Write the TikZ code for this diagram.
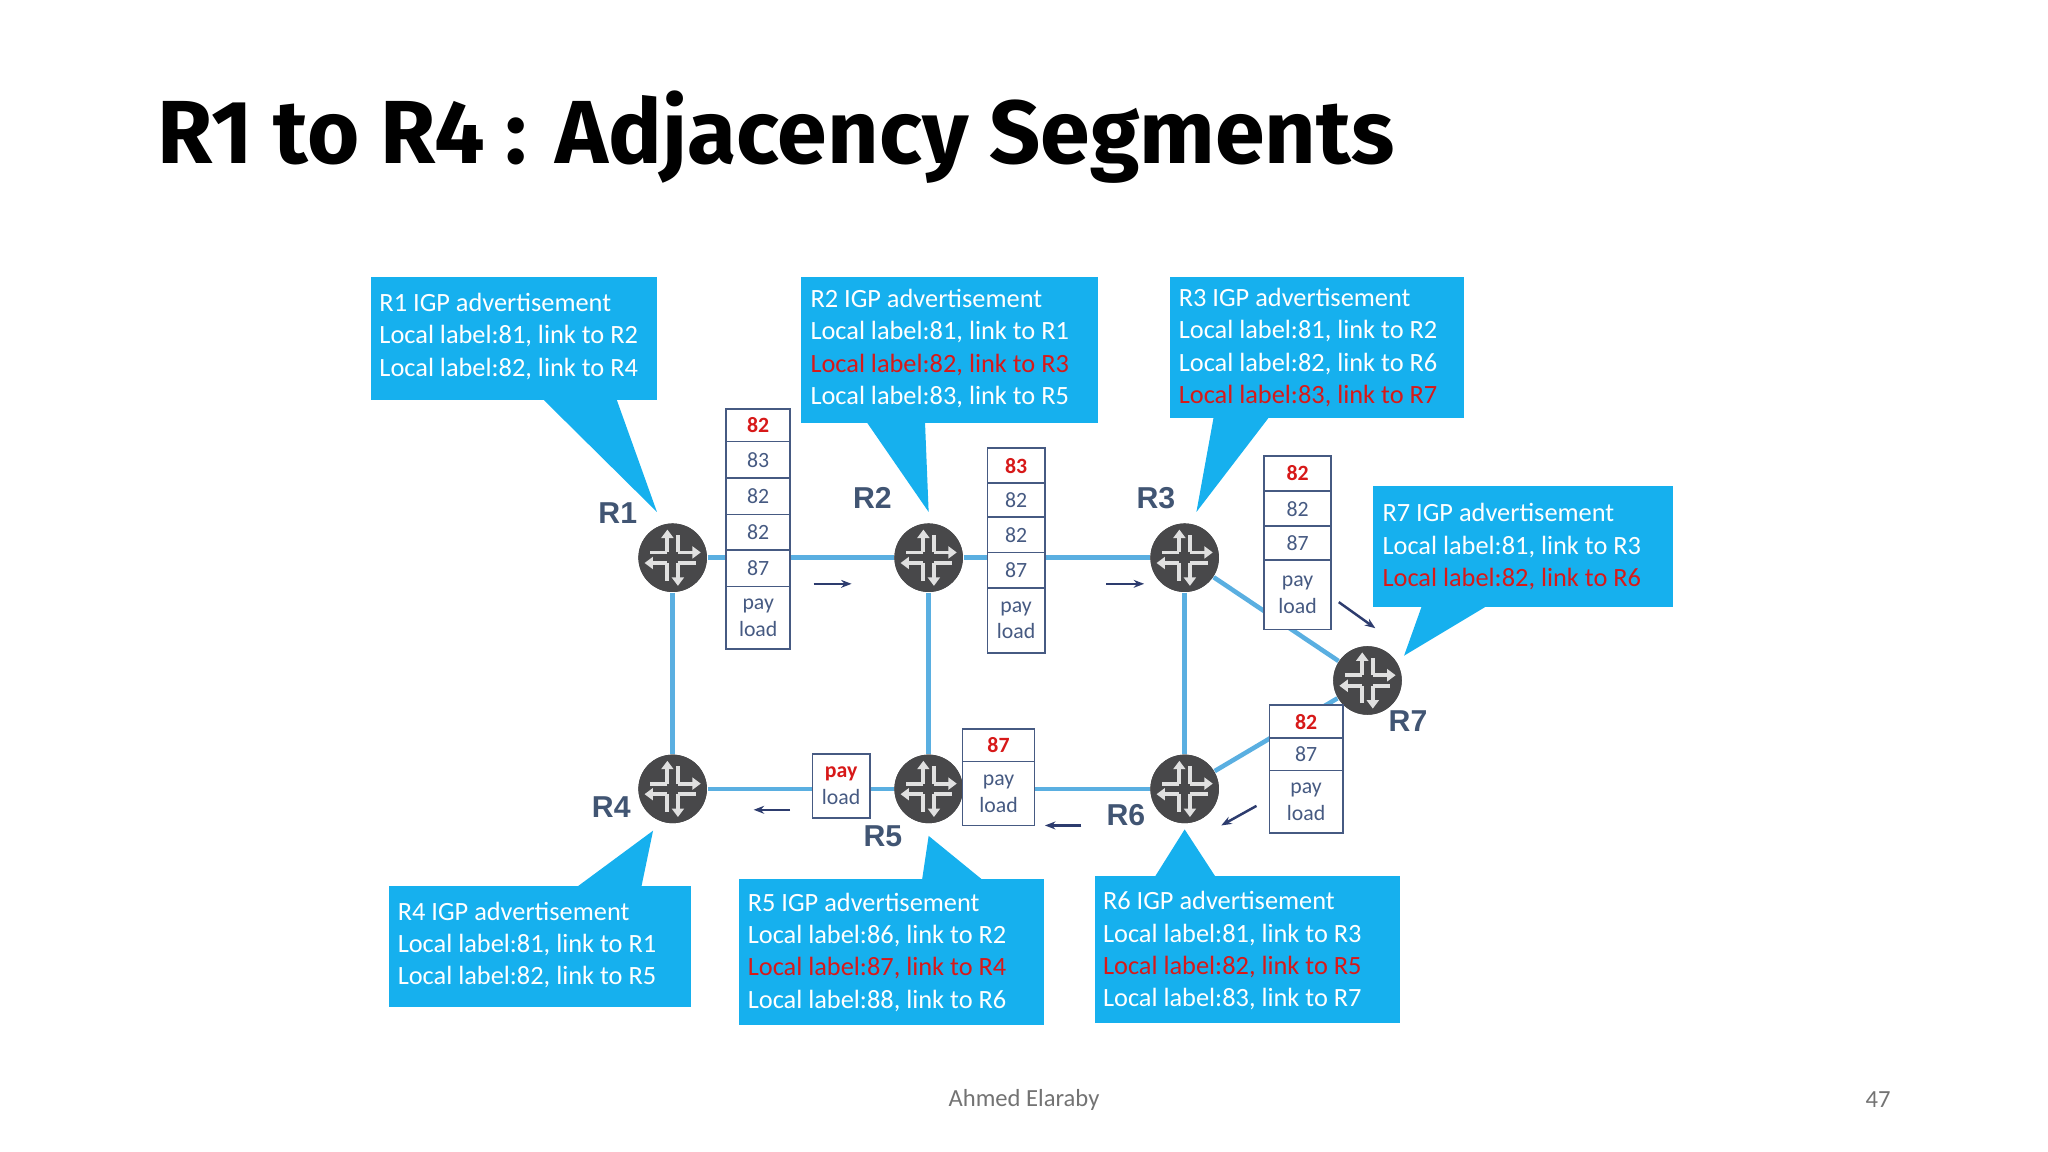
\documentclass[tikz,border=0pt]{standalone}
\usepackage{fontspec}
\setmainfont{Carlito}
\newfontfamily\titlefont{Fira Sans}
\newfontfamily\rfont{Liberation Sans}
\usetikzlibrary{arrows.meta,calc}
\definecolor{cblue}{RGB}{22,176,238}
\definecolor{lnk}{RGB}{90,175,225}
\definecolor{rgrey}{RGB}{72,72,74}
\definecolor{cellb}{RGB}{70,90,130}
\definecolor{navy}{RGB}{45,60,110}
\definecolor{lred}{RGB}{215,25,25}
\definecolor{rlab}{RGB}{65,85,115}
\tikzset{
    every node/.style={font=\fontsize{7.5}{9.2}\selectfont},
    router/.style={circle, fill=rgrey, minimum size=19.5pt, inner sep=0pt},
    rname/.style={font=\rfont\bfseries\fontsize{8.6}{9}\selectfont, text=rlab},
    ctxt/.style={text=white, anchor=north west, align=left, inner sep=0pt},
    link/.style={draw=lnk, line width=1.3pt},
    cell/.style={draw=cellb, fill=white, line width=0.5pt},
    ctext/.style={font=\fontsize{6.2}{7.6}\selectfont, text=cellb, align=center},
    flow/.style={draw=navy, line width=0.7pt, -{Stealth[length=3pt]}},
    cross/.style={draw=black!12, line width=1.1pt}
}
\newcommand{\cellbox}[5]{%
    \draw[cell] (#1,#3) rectangle (#2,#4);
    \node[ctext] at ({(#1+#2)/2},{(#3+#4)/2}) {#5};}
\newcommand{\redl}[1]{\textcolor{lred}{#1}}
\begin{document}
\begin{tikzpicture}[x=0.013061cm, y=-0.013061cm]
\useasboundingbox (0,0) rectangle (1568,882);

% Title
\node[anchor=base west, inner sep=0pt, font=\titlefont\bfseries\fontsize{25.5}{30}\selectfont] (title) at (120,125) {R1 to R4 : Adjacency Segments};

% Routers
\node[router] (R1) at (515,427) {};
\node[router] (R2) at (711,427) {};
\node[router] (R3) at (907,427) {};
\node[router] (R7) at (1047,521) {};
\node[router] (R4) at (515,604) {};
\node[router] (R5) at (711,604) {};
\node[router] (R6) at (907,604) {};
\foreach \a/\b in {R1/R2, R2/R3, R1/R4, R2/R5, R3/R6, R4/R5, R5/R6, R3/R7, R6/R7}
    \draw[link] (\a) -- (\b);
\foreach \n in {R1,R2,R3,R4,R5,R6,R7}{
    \node[router] at (\n) {};
    \foreach \r in {0,90,180,270}{
        \draw[cross, rotate around={\r:(\n)}, -{Triangle[length=2.4pt,width=3.4pt]}]
            ($(\n)+(1.5pt,-1.5pt)$) -- ++(0,-6.5pt);
        \draw[cross, rotate around={\r:(\n)}] ($(\n)+(1.5pt,-1.5pt)$) -- ++(5pt,0);
    }
}

% Router names
\node[rname] (n1) at (473,393) {R1};
\node[rname] (n2) at (668,381) {R2};
\node[rname] (n3) at (885,381) {R3};
\node[rname] (n7) at (1078,552) {R7};
\node[rname] (n4) at (468,618) {R4};
\node[rname] (n5) at (676,640) {R5};
\node[rname] (n6) at (862,624) {R6};

% Callouts
\fill[cblue] (284,212) rectangle (503,306); \fill[cblue] (410,300) -- (470,300) -- (503,392) -- cycle;
\node[ctxt] (b1) at (290,224)
    {R1 IGP advertisement\\Local label:81, link to R2\\Local label:82, link to R4};
\fill[cblue] (613,212) rectangle (841,324); \fill[cblue] (660,318) -- (708,318) -- (711,392) -- cycle;
\node[ctxt] (b2) at (620,221)
    {R2 IGP advertisement\\Local label:81, link to R1\\\redl{Local label:82, link to R3}\\Local label:83, link to R5};
\fill[cblue] (896,212) rectangle (1121,320); \fill[cblue] (930,315) -- (975,315) -- (916,392) -- cycle;
\node[ctxt] (b3) at (902,220)
    {R3 IGP advertisement\\Local label:81, link to R2\\Local label:82, link to R6\\\redl{Local label:83, link to R7}};
\fill[cblue] (1051,372) rectangle (1281,465); \fill[cblue] (1090,460) -- (1145,460) -- (1075,502) -- cycle;
\node[ctxt] (b7) at (1058,385)
    {R7 IGP advertisement\\Local label:81, link to R3\\\redl{Local label:82, link to R6}};
\fill[cblue] (298,678) rectangle (529,771); \fill[cblue] (435,684) -- (490,684) -- (500,636) -- cycle;
\node[ctxt] (b4) at (304,690)
    {R4 IGP advertisement\\Local label:81, link to R1\\Local label:82, link to R5};
\fill[cblue] (566,673) rectangle (799,785); \fill[cblue] (705,680) -- (760,680) -- (711,640) -- cycle;
\node[ctxt] (b5) at (572,683)
    {R5 IGP advertisement\\Local label:86, link to R2\\\redl{Local label:87, link to R4}\\Local label:88, link to R6};
\fill[cblue] (838,671) rectangle (1072,783); \fill[cblue] (880,678) -- (935,678) -- (907,635) -- cycle;
\node[ctxt] (b6) at (844,682)
    {R6 IGP advertisement\\Local label:81, link to R3\\\redl{Local label:82, link to R5}\\Local label:83, link to R7};

% Label stacks
\cellbox{556}{605}{313}{338}{\redl{\bfseries 82}}
\cellbox{556}{605}{338}{366}{83}
\cellbox{556}{605}{366}{394}{82}
\cellbox{556}{605}{394}{421}{82}
\cellbox{556}{605}{421}{449}{87}
\cellbox{556}{605}{449}{497}{pay\\load}
\cellbox{756}{800}{343}{370}{\redl{\bfseries 83}}
\cellbox{756}{800}{370}{396}{82}
\cellbox{756}{800}{396}{423}{82}
\cellbox{756}{800}{423}{450}{87}
\cellbox{756}{800}{450}{500}{pay\\load}
\cellbox{968}{1019}{349}{376}{\redl{\bfseries 82}}
\cellbox{968}{1019}{376}{403}{82}
\cellbox{968}{1019}{403}{429}{87}
\cellbox{968}{1019}{429}{482}{pay\\load}
\cellbox{972}{1028}{540}{565}{\redl{\bfseries 82}}
\cellbox{972}{1028}{565}{590}{87}
\cellbox{972}{1028}{590}{638}{pay\\load}
\cellbox{737}{792}{558}{583}{\redl{\bfseries 87}}
\cellbox{737}{792}{583}{632}{pay\\load}
\cellbox{622}{666}{577}{626}{\color{lred}\bfseries pay\\load}

% Packet flow
\coordinate (f1a) at (623,447); \coordinate (f1b) at (652,447);
\coordinate (f2a) at (847,447); \coordinate (f2b) at (876,447);
\coordinate (f3a) at (1025,461); \coordinate (f3b) at (1053,481);
\coordinate (f4a) at (962,617); \coordinate (f4b) at (935,632);
\coordinate (f5a) at (828,632); \coordinate (f5b) at (800,632);
\coordinate (f6a) at (605,620); \coordinate (f6b) at (577,620);
\foreach \i in {1,...,6}
    \draw[flow] (f\i a) -- (f\i b);

% Footer
\node[text=black!55, font=\fontsize{7}{8}\selectfont] (foot) at (784,842) {Ahmed Elaraby};
\node[text=black!55, font=\fontsize{7}{8}\selectfont] (page) at (1438,842) {47};
\end{tikzpicture}
\end{document}
